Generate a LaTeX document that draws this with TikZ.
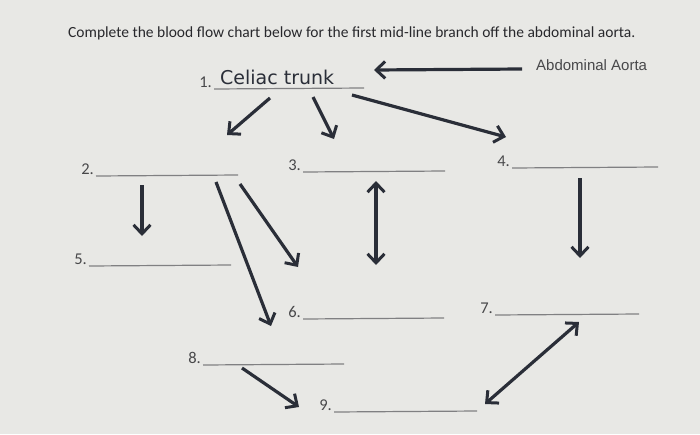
\documentclass[tikz,border=0pt]{standalone}
\usepackage{fontspec}
\setmainfont{Carlito}
\newfontfamily\aortafont{Liberation Sans}
\newfontfamily\handfont{DejaVu Sans}
\usetikzlibrary{arrows.meta}
\definecolor{paper}{RGB}{232,232,229}
\definecolor{ink}{RGB}{42,46,56}
\definecolor{rulegray}{RGB}{128,128,130}
\definecolor{printgray}{RGB}{72,72,74}
\definecolor{titlegray}{RGB}{40,40,44}
\tikzset{
  tip/.tip={Straight Barb[length=9pt,width=17pt,line width=3pt]},
  flow/.style={draw=ink, line width=3.2pt, -tip},
  twoway/.style={flow, tip-tip},
  blankline/.style={draw=rulegray, line width=1.2pt},
  numlabel/.style={anchor=base east, inner sep=1pt, text=printgray, font=\fontsize{16.5}{18}\selectfont}
}
% #1 name, #2 number, #3 x, #4 y (baseline), #5 length
\newcommand{\blank}[5]{
  \node[numlabel] (#1num) at (#3,#4) {#2.};
  \coordinate (#1) at (#3+1,#4+2);
  \coordinate (#1end) at (#3+1+#5,#4+1);
  \draw[blankline] (#1) -- (#1end);
}

\begin{document}
\begin{tikzpicture}[x=1pt,y=-1pt]
  \fill[paper] (0,0) rectangle (700,434);
  \useasboundingbox (0,0) rectangle (700,434);

  \node[anchor=base west, inner sep=0pt, text=titlegray, font=\fontsize{15.5}{18}\selectfont] (title) at (68,37)
    {Complete the blood flow chart below for the first mid-line branch off the abdominal aorta.};
  \node[anchor=base west, inner sep=0pt, text=printgray, font=\aortafont\fontsize{15}{18}\selectfont] (aorta) at (536,70) {Abdominal Aorta};

  \blank{b1}{1}{213}{87}{150}
  \node[anchor=base west, inner sep=0pt, text=ink, font=\handfont\fontsize{19}{21}\selectfont] (celiac) at (220,84) {Celiac trunk};
  \blank{b2}{2}{95}{174}{142}
  \blank{b3}{3}{302}{170}{142}
  \blank{b4}{4}{511}{166}{146}
  \blank{b5}{5}{88}{264}{142}
  \blank{b6}{6}{302}{317}{141}
  \blank{b7}{7}{494}{313}{144}
  \blank{b8}{8}{202}{363}{141}
  \blank{b9}{9}{333}{410}{143}

  % arrow ends
  \coordinate (aortaArr) at (522,69);
  \coordinate (celiacArr) at (374,70);
  \coordinate (s2) at (270,98);   \coordinate (t2) at (227,135);
  \coordinate (s3) at (313,97);   \coordinate (t3) at (334,139);
  \coordinate (s4) at (352,95);   \coordinate (t4) at (506,137);
  \coordinate (s5) at (142,185);  \coordinate (t5) at (142,236);
  \coordinate (s8) at (216,182);  \coordinate (t8) at (271,326);
  \coordinate (s6) at (240,184);  \coordinate (t6) at (298,267);
  \coordinate (s36) at (376,181); \coordinate (t36) at (376,265);
  \coordinate (s47) at (580,178); \coordinate (t47) at (580,258);
  \coordinate (s9) at (242,368);  \coordinate (t9) at (299,407);
  \coordinate (s79) at (485,404); \coordinate (t79) at (579,322);

  \draw[flow] (aortaArr) -- (celiacArr);
  \draw[flow] (s2) -- (t2);
  \draw[flow] (s3) -- (t3);
  \draw[flow] (s4) -- (t4);
  \draw[flow] (s5) -- (t5);
  \draw[flow] (s8) -- (t8);
  \draw[flow] (s6) -- (t6);
  \draw[twoway] (s36) -- (t36);
  \draw[flow] (s47) -- (t47);
  \draw[flow] (s9) -- (t9);
  \draw[twoway] (s79) -- (t79);
\end{tikzpicture}
\end{document}
